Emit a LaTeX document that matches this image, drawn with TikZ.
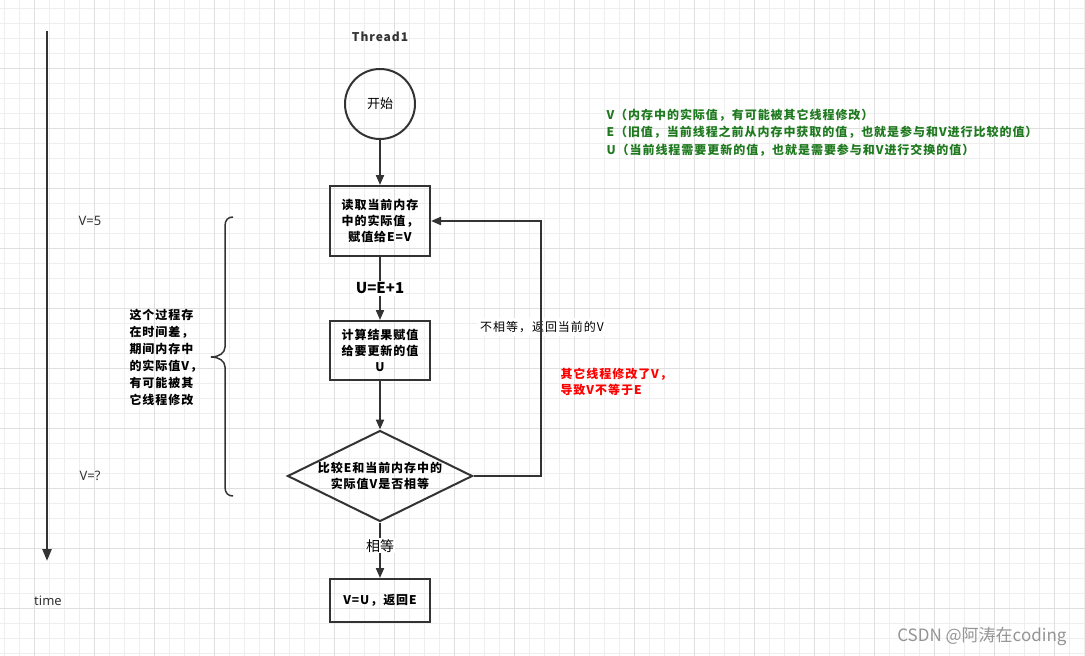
\documentclass[tikz,border=0pt]{standalone}
\usepackage{fontspec}
\setmainfont{Noto Sans}
\newfontfamily\cjk[LetterSpace=8]{Noto Sans CJK SC}
\newfontfamily\cjkplain{Noto Sans CJK SC}
\usetikzlibrary{arrows.meta,shapes.geometric}
\definecolor{ink}{HTML}{333333}
\definecolor{gridminor}{HTML}{EEEEEE}
\definecolor{gridmajor}{HTML}{DFDFDF}
\definecolor{legendgreen}{HTML}{1F7A1F}

\begin{document}
\begin{tikzpicture}[x=1pt,y=-1pt,
  box/.style={draw=ink,line width=2pt,minimum width=100pt,minimum height=70pt,
    inner sep=2pt,align=center,text=black,font=\cjk\bfseries\fontsize{12}{16}\selectfont},
  decision/.style={draw=ink,line width=2pt,diamond,aspect=2,inner sep=-4pt,
    minimum width=185pt,minimum height=91pt,align=center,text=black,
    font=\cjk\bfseries\fontsize{12}{16}\selectfont},
  flow/.style={draw=ink,line width=2pt,-{Triangle[length=10pt,width=8pt]}},
  edgelbl/.style={fill=white,inner sep=1pt,text=black},
  sidelbl/.style={text=ink,font=\fontsize{13}{15}\selectfont},
  note/.style={anchor=west,align=left,font=\cjk\bfseries\fontsize{12}{17}\selectfont}]
\useasboundingbox (0,0) rectangle (1085,656);
\fill[white] (0,0) rectangle (1085,656);
\foreach \x in {0,...,72}{
\draw[gridminor,line width=1pt] ({4.3+15*\x},0) -- ({4.3+15*\x},656);};
\foreach \y in {0,...,43}{
\draw[gridminor,line width=1pt] (0,{8.3+15*\y}) -- (1085,{8.3+15*\y});};
\foreach \x in {0,...,17}{
\draw[gridmajor,line width=1pt] ({34.3+60*\x},0) -- ({34.3+60*\x},656);};
\foreach \y in {0,...,9}{
\draw[gridmajor,line width=1pt] (0,{68.3+60*\y}) -- (1085,{68.3+60*\y});};

\coordinate (ttop) at (47,31);
\coordinate (tend) at (47,561);
\draw[draw=ink,line width=2.5pt,-{Triangle[length=12pt,width=9pt]}] (ttop) -- (tend);
\node[sidelbl] (vstart) at (90,221) {V=5};
\node[sidelbl] (vend) at (90,476) {V=?};
\node[sidelbl] (tlabel) at (48,601) {time};

\node[text=ink,font=\cjk\bfseries\fontsize{12}{14}\selectfont] (thread) at (380,37) {Thread1};
\node[draw=ink,line width=2pt,circle,minimum size=70pt,inner sep=0pt,
  font=\cjkplain\fontsize{13}{15}\selectfont] (start) at (380,104) {开始};
\node[box] (read) at (380,221) {读取当前内存\\中的实际值，\\赋值给E=V};
\node[box,minimum height=59pt] (calc) at (380,350.5) {计算结果赋值\\给要更新的值\\U};
\node[decision] (cmp) at (380,476) {比较E和当前内存中的\\实际值V是否相等};
\node[box,minimum height=43pt] (done) at (380,600.5) {V=U，返回E};

\draw[flow] (start) -- (read);
\draw[flow] (read) -- (calc) node[midway,edgelbl,inner sep=2pt,font=\cjkplain\bfseries\fontsize{15}{17}\selectfont] (inc) {U=E+1};
\draw[flow] (calc) -- (cmp);
\draw[flow] (cmp) -- (done) node[pos=0.42,edgelbl,font=\cjkplain\fontsize{14}{16}\selectfont] (same) {相等};
\node[edgelbl,inner sep=3pt,font=\cjk\fontsize{12}{14}\selectfont] (diff) at (542,327) {不相等，返回当前的V};
\coordinate (back) at (541,221);
\draw[flow] (cmp.east) -| (back) -- (read.east);

\node[note,text=red,font=\cjk\bfseries\fontsize{12}{16.5}\selectfont] (why) at (557,382) {其它线程修改了V，\\导致V不等于E};
\node[note,text=black] (gap) at (126,357) {这个过程存\\在时间差，\\期间内存中\\的实际值V，\\有可能被其\\它线程修改};
\draw[draw=ink,line width=1.5pt] (233,217) .. controls (228,217) and (225,220) .. (225,226)
  -- (225,347) .. controls (225,353) and (219,357) .. (211,357)
  .. controls (219,357) and (225,361) .. (225,367)
  -- (225,487) .. controls (225,493) and (228,496) .. (233,496);

\node[note,text=legendgreen,font=\cjk\bfseries\fontsize{12}{17.5}\selectfont] (legend) at (603,132.5)
  {V（内存中的实际值，有可能被其它线程修改）\\E（旧值，当前线程之前从内存中获取的值，也就是参与和V进行比较的值）\\U（当前线程需要更新的值，也就是需要参与和V进行交换的值）};

\node[anchor=east,text=black!42,font=\cjkplain\fontsize{17}{20}\selectfont] (mark) at (1070,636) {CSDN @阿涛在coding};
\end{tikzpicture}
\end{document}
